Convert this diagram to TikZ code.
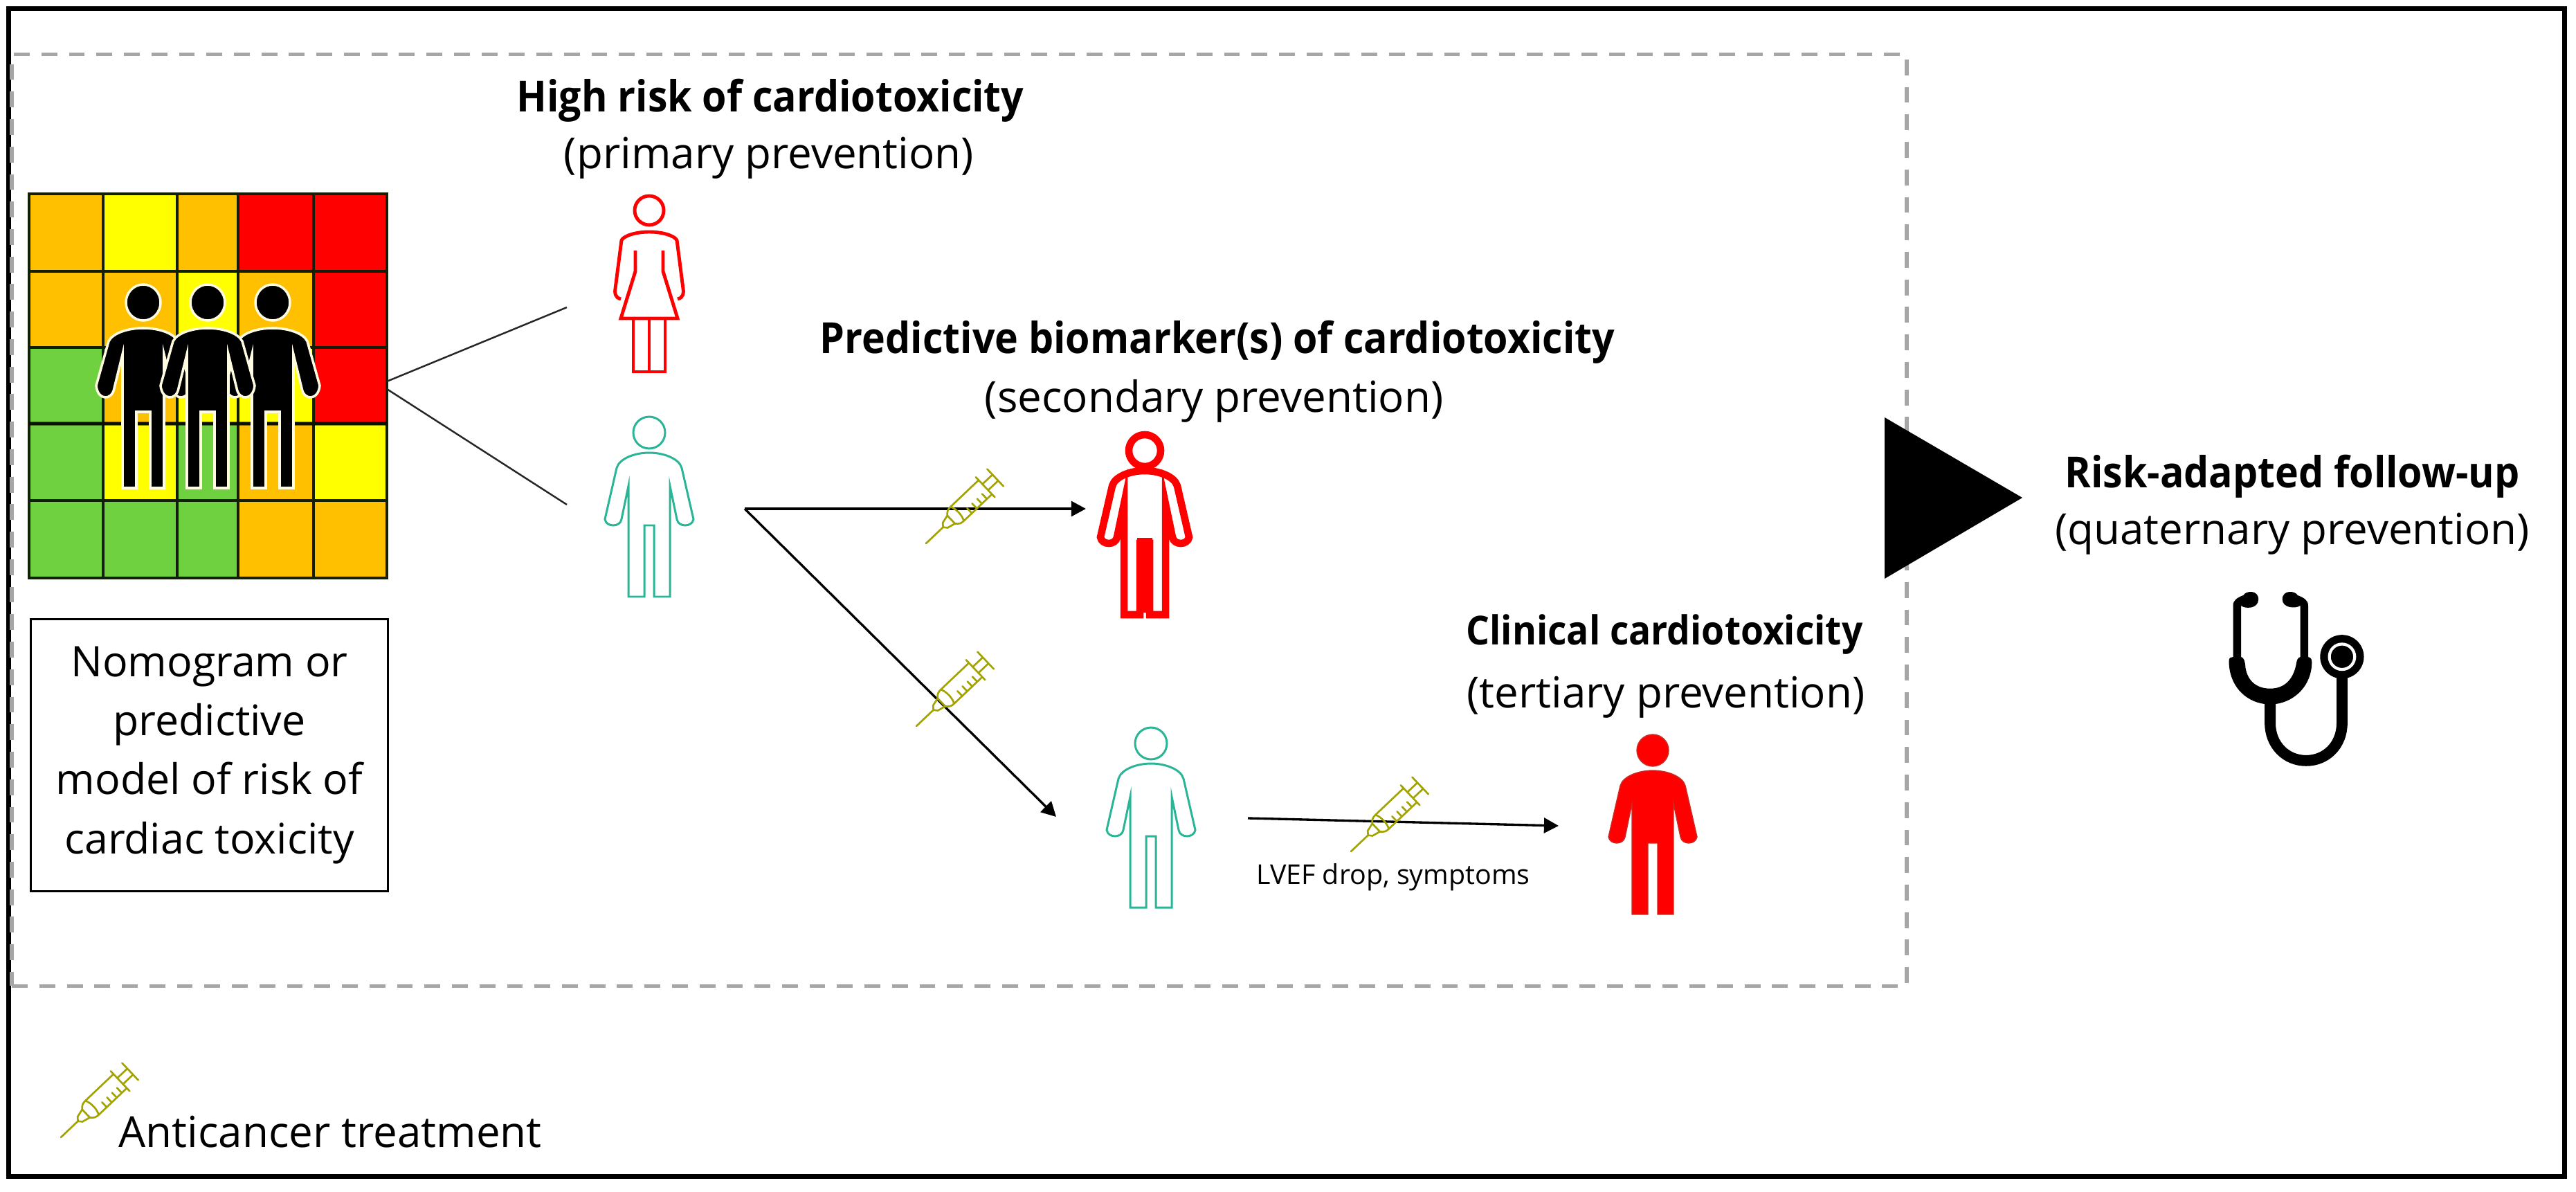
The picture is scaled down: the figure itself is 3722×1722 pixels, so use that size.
\documentclass[tikz,border=0pt]{standalone}
\usepackage{fontspec}
\setmainfont{Open Sans}[BoldFeatures={FakeStretch=0.925}]
\usetikzlibrary{arrows.meta}
\definecolor{ogold}{HTML}{FFC000}
\definecolor{oyel}{HTML}{FFFF00}
\definecolor{ored}{HTML}{FF0000}
\definecolor{ogrn}{HTML}{6FD13F}
\definecolor{oteal}{HTML}{2BB597}
\definecolor{olive}{HTML}{A3A300}
\definecolor{dashgray}{HTML}{A6A6A6}
\definecolor{crowdedge}{HTML}{FFFBE0}
\tikzset{
  x=0.01cm,y=-0.01cm,
  gridcell/.style={draw=black!85!ogrn,line width=0.9pt},
  conn/.style={draw=black!85,line width=0.7pt},
  arrowline/.style={draw=black,line width=0.95pt,-{Triangle[length=6pt,width=6.2pt]}},
  big/.style={font=\fontsize{17.6}{21}\selectfont},
  bigb/.style={font=\fontsize{17.6}{21}\selectfont\bfseries},
  bigbs/.style={font=\fontsize{16.4}{21}\selectfont\bfseries},
  boxtext/.style={font=\fontsize{17.3}{24.2}\selectfont,align=center},
  smalltxt/.style={font=\fontsize{11.2}{13}\selectfont},
  crowdfig/.style={fill=black,draw=crowdedge,line width=1pt},
  person/.pic={
    \path[pic actions] (0,23) ellipse [x radius=23,y radius=23];
    \path[pic actions] (-30,100) -- (-30,260) -- (-7,260) -- (-7,157) -- (7,157) -- (7,260) -- (30,260) -- (30,100)
      -- (40,148) .. controls (42,160) and (62,160) .. (64,148)
      -- (47,74) .. controls (43,60) and (20,52) .. (0,52)
      .. controls (-20,52) and (-43,60) .. (-47,74)
      -- (-64,148) .. controls (-62,160) and (-42,160) .. (-40,148) -- cycle;
  },
  crowdman/.pic={
    \path[pic actions] (0,26) ellipse [x radius=25,y radius=26];
    \path[pic actions] (-30,101) -- (-30,294) -- (-10,294) -- (-10,184) -- (10,184) -- (10,294) -- (30,294) -- (30,101)
      -- (42,150) .. controls (45,168) and (66,168) .. (68,146)
      -- (50,82) .. controls (44,70) and (22,63) .. (0,63)
      .. controls (-22,63) and (-44,70) .. (-50,82)
      -- (-68,146) .. controls (-66,168) and (-45,168) .. (-42,150) -- cycle;
  },
  woman/.pic={
    \path[pic actions] (0,22) ellipse [x radius=21,y radius=21];
    \path[pic actions] (-20,80) -- (-20,110) -- (-41,178) -- (41,178) -- (20,110) -- (20,80);
    \path[pic actions] (-41,150) .. controls (-50,148) and (-50,140) .. (-49,135) -- (-40,65) .. controls (-36,58) and (-18,53) .. (0,53)
      .. controls (18,53) and (36,58) .. (40,65) -- (49,135) .. controls (50,140) and (50,148) .. (41,150);
    \path[pic actions] (-23,178) -- (-23,255) -- (23,255) -- (23,178) (0,178) -- (0,255);
  },
  syringe/.pic={
    \begin{scope}[rotate=43.5,line width=0.75pt,line cap=round]
      \draw[draw=olive] (0,0) -- (34,0);
      \draw[draw=olive] (34,0) -- (38,-5) -- (50,-8) .. controls (54,-13) and (57,-14) .. (62,-14) -- (118,-14)
        (34,0) -- (38,5) -- (50,8) .. controls (54,13) and (57,14) .. (62,14) -- (118,14)
        (50,-8) -- (50,8) (62,-14) .. controls (66,-6) and (66,6) .. (62,14);
      \draw[draw=olive] (118,-20) -- (118,20);
      \draw[draw=olive] (78,14) -- (78,4) (88,14) -- (88,4) (98,14) -- (98,4) (108,14) -- (108,4);
      \draw[draw=olive] (118,-6) -- (138,-6) (118,6) -- (138,6) (138,-17) -- (138,17);
    \end{scope}
  }
}
\begin{document}
\begin{tikzpicture}
\useasboundingbox (0,0) rectangle (3722,1722);
\fill[white] (0,0) rectangle (3722,1722);
% outer frame and dashed region
\node[draw=black,line width=2.1pt,minimum width=36.905cm,minimum height=16.865cm,inner sep=0pt] (frame) at (1859,856) {};
\node[draw=dashgray,line width=1.6pt,dash pattern=on 6.5pt off 4.8pt,minimum width=27.36cm,minimum height=13.45cm,inner sep=0pt] (region) at (1386,751.5) {};
% risk grid
\foreach \xa/\xb/\ya/\yb/\c in {
 42/149/280/392/ogold,149/256/280/392/oyel,256/344/280/392/ogold,344/453/280/392/ored,453/559/280/392/ored,
 42/149/392/502/ogold,149/256/392/502/ogold,256/344/392/502/oyel,344/453/392/502/ogold,453/559/392/502/ored,
 42/149/502/612/ogrn,149/256/502/612/ogold,256/344/502/612/oyel,344/453/502/612/oyel,453/559/502/612/ored,
 42/149/612/723/ogrn,149/256/612/723/oyel,256/344/612/723/ogrn,344/453/612/723/ogold,453/559/612/723/oyel,
 42/149/723/835/ogrn,149/256/723/835/ogrn,256/344/723/835/ogrn,344/453/723/835/ogold,453/559/723/835/ogold}
 {\draw[gridcell,fill=\c] (\xa,\ya) rectangle (\xb,\yb);}
\draw[line width=1.6pt,black,opacity=.45] (42,612) -- (559,612);
\coordinate (gridA) at (559,551);
\coordinate (gridB) at (559,562);
% crowd
\path pic[crowdfig] at (207,411) {crowdman};
\path pic[crowdfig] at (394,411) {crowdman};
\path pic[crowdfig] at (300,411) {crowdman};
% box
\node[draw=black,line width=0.9pt,minimum width=5.15cm,minimum height=3.92cm,inner sep=0pt,boxtext] (nomo) at (302.5,1091) {\raisebox{-1.2pt}{\parbox{5cm}{\centering Nomogram or\\predictive\\model of risk of\\cardiac toxicity}}};
% figures
\path pic[draw=ored,line width=1.4pt,fill=none] at (938,282) {woman};
\path pic[draw=oteal,line width=0.85pt,fill=none] at (938,602) {person};
\path pic[draw=oteal,line width=0.85pt,fill=none] at (1663,1051) {person};
\path pic[draw=ored,line width=3pt,fill=none] at (1654,628) {person};
\fill[ored] (1643,777) rectangle (1665,885);
\path pic[fill=ored,draw=ored!75!oteal,line width=0.4pt] at (2388,1061) {person};
% connector anchors
\coordinate (wIn) at (819,444);
\coordinate (mIn) at (819,729);
\coordinate (fork) at (1076,735);
\coordinate (boldIn) at (1569,735);
\coordinate (midIn) at (1526,1180);
\coordinate (clinOut) at (1803,1182);
\coordinate (clinIn) at (2252,1193);
\draw[conn] (gridA) -- (wIn);
\draw[conn] (gridB) -- (mIn);
\draw[arrowline] (fork) -- (boldIn);
\draw[arrowline] (fork) -- (midIn);
\draw[arrowline] (clinOut) -- (clinIn);
% syringes
\path pic at (1338,785) {syringe};
\path pic at (1324,1049) {syringe};
\path pic at (1952,1230) {syringe};
\path pic at (88,1643) {syringe};
% triangle
\fill[black] (2723,603) -- (2723,836) -- (2922,719) -- cycle;
% labels
\node[bigb] (t1) at (1113,145) {High risk of cardiotoxicity};
\node[big] (t2) at (1111,228) {(primary prevention)};
\node[bigb] (t3) at (1759,494) {Predictive biomarker(s) of cardiotoxicity};
\node[big] (t4) at (1754,579) {(secondary prevention)};
\node[bigbs] (t5) at (2405,917) {Clinical cardiotoxicity};
\node[big] (t6) at (2407,1007) {(tertiary prevention)};
\node[bigb] (t7) at (3312,688) {Risk-adapted follow-up};
\node[big] (t8) at (3312,771) {(quaternary prevention)};
\node[smalltxt] (t9) at (2013,1267) {LVEF drop, symptoms};
\node[big,anchor=west,inner sep=0pt] (t10) at (171,1635) {Anticancer treatment};
% stethoscope
\begin{scope}[shift={(3100,800)},x=0.00333cm,y=-0.00333cm]
  \fill[black] (362,465) .. controls (362,450) and (372,448) .. (380,448) -- (380,225) .. controls (380,200) and (400,190) .. (425,180)
    .. controls (435,160) and (490,155) .. (490,198) .. controls (490,240) and (430,240) .. (415,225) -- (415,448)
    .. controls (428,450) and (432,470) .. (434,495) .. controls (445,560) and (490,585) .. (541,585) .. controls (600,585) and (640,550) .. (654,480)
    .. controls (656,465) and (660,450) .. (672,448) -- (672,225) .. controls (650,240) and (594,235) .. (594,198) .. controls (594,155) and (650,160) .. (660,180)
    .. controls (685,190) and (706,200) .. (706,225) -- (706,448) .. controls (716,450) and (722,456) .. (722,470)
    .. controls (722,570) and (650,640) .. (566,652) -- (516,652) .. controls (430,640) and (362,570) .. (362,465) -- cycle;
  \draw[black,line width=4.5pt] (541,640) -- (541,735) .. controls (541,830) and (610,898) .. (697,898) .. controls (785,898) and (853,830) .. (853,735) -- (853,520);
  \fill[black] (853,447) circle [radius=95];
  \draw[white,line width=1.2pt] (853,447) circle [radius=55];
\end{scope}
\end{tikzpicture}
\end{document}
